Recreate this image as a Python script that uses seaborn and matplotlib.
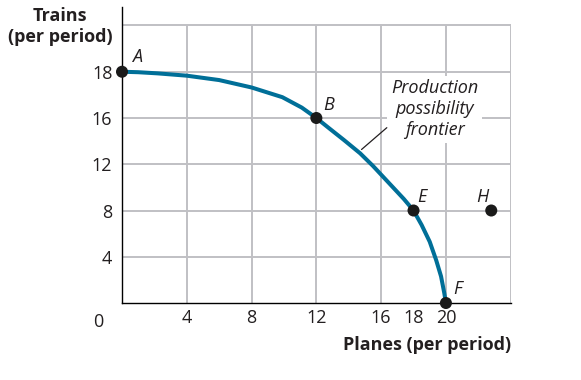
import numpy as np
import matplotlib
matplotlib.use("Agg")
import matplotlib.pyplot as plt
import seaborn as sns

# production possibility frontier
ppf_planes = [0, 1.0, 2.2, 4, 6, 8, 9.9, 11.1, 12, 12.8, 13.7, 14.7, 15.5, 16,
              16.8, 17.4, 18, 18.5, 19.0, 19.4, 19.7, 19.9, 20]
ppf_trains = [18, 17.98, 17.93, 17.83, 17.64, 17.32, 16.9, 16.45, 16, 15.1, 14.1,
              12.95, 11.85, 11.1, 9.9, 9.0, 8, 6.75, 5.3, 3.7, 2.3, 0.85, 0]

point_names = ["A", "B", "E", "F", "H"]
point_planes = [0, 12, 18, 20, 22.8]
point_trains = [18, 16, 8, 0, 8]

x_ticks = [4, 8, 12, 16, 18, 20]
y_ticks = [4, 8, 12, 16, 18]
x_grid = [4, 8, 12, 16, 20, 24]
y_grid = [4, 8, 12, 16, 18, 20]

CURVE = "#006f98"
GRID = "#c0c0c4"
INK = "#231f20"
FS = 13


# the top of the train axis is stretched: 16 -> 18 takes a full grid step
def fwd(y):
    y = np.asarray(y, dtype=float)
    return np.where(y <= 16, y, 16 + 2 * (y - 16))


def inv(d):
    d = np.asarray(d, dtype=float)
    return np.where(d <= 16, d, 16 + (d - 16) / 2)


sns.set_style("white")
plt.rcParams["font.family"] = ["Open Sans", "DejaVu Sans"]

fig = plt.figure(figsize=(5.81, 3.80), dpi=100)
ax = fig.add_axes([0.21, 0.2026, 0.669, 0.779])
ax.set_yscale("function", functions=(fwd, inv))

# grid (stops at the 24 / "20" square)
ax.hlines(y_grid, 0, 24, color=GRID, lw=1.4, zorder=0)
ax.vlines(x_grid, 0, 20, color=GRID, lw=1.4, zorder=0)

sns.lineplot(x=ppf_planes, y=ppf_trains, sort=False, color=CURVE, lw=2.9,
             ax=ax, zorder=3)
ax.lines[-1].set_solid_joinstyle("round")
sns.scatterplot(x=point_planes, y=point_trains, color="#1a1a1a", s=75,
                edgecolor="none", ax=ax, zorder=5, clip_on=False)

offsets = {"A": (10.8, 10.8), "B": (8.6, 9.4), "E": (6.1, 9.4),
           "F": (8.3, 10.1), "H": (-6.5, 9.4)}
for name, px, py in zip(point_names, point_planes, point_trains):
    ax.annotate(name, (px, py), xytext=offsets[name], textcoords="offset points",
                ha="center", va="center", fontsize=FS, style="italic", color=INK)

# curve label and leader
ax.annotate("", xy=(14.66, 13.12), xytext=(16.48, 15.32),
            arrowprops=dict(arrowstyle="-", lw=0.9, color=INK), zorder=6)
ax.text(19.3, 16.38, "Production\npossibility\nfrontier", ha="center", va="center",
        fontsize=FS, style="italic", color=INK, linespacing=1.2, zorder=2,
        bbox=dict(boxstyle="square,pad=0.2", fc="white", ec="none"))

ax.set_xlim(0, 24)
ax.set_ylim(0, 20.8)
ax.set_xticks(x_ticks)
ax.set_yticks(y_ticks)
ax.set_xticklabels([str(v) for v in x_ticks])
ax.set_yticklabels([str(v) for v in y_ticks])
ax.minorticks_off()
ax.tick_params(direction="in", length=10, width=1.1, color="black",
               labelsize=FS, labelcolor=INK)
ax.tick_params(axis="y", pad=7)
ax.tick_params(axis="x", pad=4)

for side in ["top", "right"]:
    ax.spines[side].set_visible(False)
for side in ["left", "bottom"]:
    ax.spines[side].set_color("black")
    ax.spines[side].set_linewidth(1.0)
ax.spines["bottom"].set_bounds(0, 24)

ax.text(-0.062, -0.064, "0", transform=ax.transAxes, ha="center", va="center",
        fontsize=FS, color=INK)
ax.text(-0.16, 0.934, "Trains\n(per period)", transform=ax.transAxes,
        ha="center", va="center", fontsize=FS, fontweight="bold", color=INK,
        linespacing=1.15)
ax.text(1.0, -0.142, "Planes (per period)", transform=ax.transAxes,
        ha="right", va="center", fontsize=FS, fontweight="bold", color=INK)

fig.savefig("out.png", dpi=100)
